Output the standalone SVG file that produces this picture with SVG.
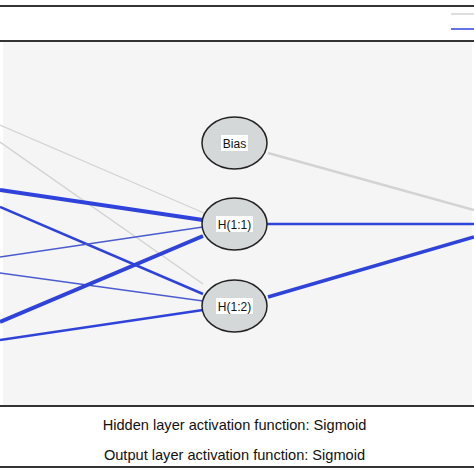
<svg xmlns="http://www.w3.org/2000/svg" width="474" height="474" viewBox="0 0 474 474">
<style>
.rule{stroke:#333;stroke-width:2;fill:none}
.g{stroke:#d3d3d3;fill:none}
.b{stroke:#2f43db;fill:none}
.bt{stroke:#4a5bd0;fill:none}
.node ellipse{fill:#d5d8d8;stroke:#222;stroke-width:1.5}
.lbl{fill:#fff}
text{font-family:"Liberation Sans",Arial,sans-serif;fill:#111}
.nt{font-size:12px;text-anchor:middle}
.ft{font-size:14.6px;text-anchor:middle}
</style>
<rect x="0" y="0" width="474" height="474" fill="#fff"/>
<rect x="3" y="42" width="469" height="364" fill="#f5f5f5"/>
<line class="rule" x1="0" y1="6" x2="474" y2="6"/>
<line class="rule" x1="0" y1="41" x2="474" y2="41"/>
<line class="rule" x1="0" y1="406" x2="474" y2="406"/>
<line class="rule" x1="0" y1="467" x2="474" y2="467"/>
<g id="legend">
<line class="g" x1="451" y1="14" x2="474" y2="14" stroke-width="1.5"/>
<line class="b" x1="451" y1="29" x2="474" y2="29" stroke-width="1.5" stroke="#4a5bd0"/>
</g>
<g id="connectors">
<line class="g" x1="0" y1="125" x2="204" y2="213" stroke-width="1.2"/>
<line class="g" x1="0" y1="142" x2="203" y2="284" stroke-width="1.5"/>
<line class="b" x1="0" y1="190" x2="203" y2="220" stroke-width="4"/>
<line class="b" x1="0" y1="207" x2="203" y2="294" stroke-width="2.5"/>
<line class="bt" x1="0" y1="257" x2="203" y2="227" stroke-width="1.7"/>
<line class="bt" x1="0" y1="273" x2="203" y2="301" stroke-width="1.3"/>
<line class="b" x1="0" y1="322" x2="203" y2="236" stroke-width="4"/>
<line class="b" x1="0" y1="340" x2="203" y2="310" stroke-width="2.3"/>
<line class="g" x1="268" y1="153" x2="474" y2="210" stroke-width="2.5"/>
<line class="b" x1="267" y1="224" x2="474" y2="224" stroke-width="2.5"/>
<line class="b" x1="268" y1="297" x2="474" y2="237" stroke-width="3.5"/>
</g>
<g id="bias" class="node">
<ellipse cx="234.5" cy="143" rx="32.5" ry="26"/>
<rect class="lbl" x="221" y="135" width="27" height="16"/>
<text class="nt" x="234.5" y="147.5">Bias</text>
</g>
<g id="h11" class="node">
<ellipse cx="234.5" cy="224" rx="32.5" ry="26"/>
<rect class="lbl" x="216" y="216" width="37" height="16"/>
<text class="nt" x="234.5" y="228.5">H(1:1)</text>
</g>
<g id="h12" class="node">
<ellipse cx="234.5" cy="306" rx="32.5" ry="26"/>
<rect class="lbl" x="216" y="298" width="37" height="16"/>
<text class="nt" x="234.5" y="310.5">H(1:2)</text>
</g>
<g id="footer">
<text class="ft" x="234.5" y="429.5">Hidden layer activation function: Sigmoid</text>
<text class="ft" x="234.5" y="459.5">Output layer activation function: Sigmoid</text>
</g>
</svg>
